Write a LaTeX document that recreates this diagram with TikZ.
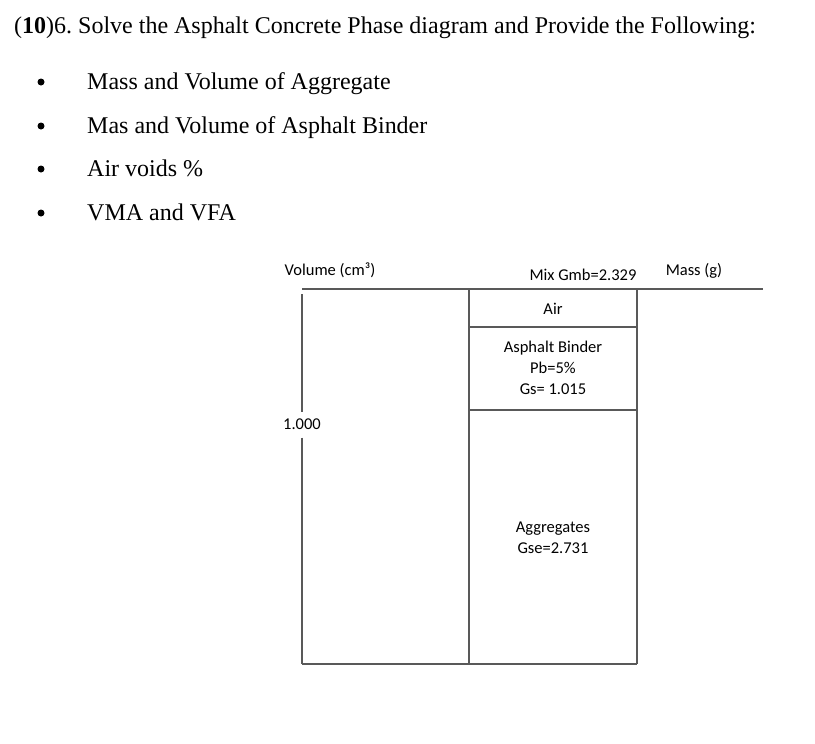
\documentclass[tikz,border=0pt]{standalone}
\usepackage{fontspec}
\setmainfont{Liberation Serif}
\newfontfamily\calibri{Carlito}
\usetikzlibrary{positioning}
\frenchspacing

\tikzset{
    phase/.style={draw=black!65, line width=1.3pt},
    lbl/.style={font=\calibri\fontsize{16.5}{19}\selectfont, inner sep=0pt, align=center},
    item/.style={font=\fontsize{24}{28}\selectfont, anchor=base west, inner sep=0pt},
    dot/.style={circle, fill, inner sep=0pt, minimum size=7pt}
}

\begin{document}
\begin{tikzpicture}[x=1pt, y=-1pt]
    \useasboundingbox (0,0) rectangle (815,744);

    % question and list
    \node[item] (title) at (14,33) {(\textbf{10})6. Solve the Asphalt Concrete Phase diagram and Provide the Following:};
    \foreach \y/\txt [count=\i] in {89/Mass and Volume of Aggregate,
                                    133/Mas and Volume of Asphalt Binder,
                                    176/Air voids \%,
                                    220/VMA and VFA} {
        \node[dot] (dot\i) at (41,\y-7) {};
        \node[item] (item\i) at (87,\y) {\txt};
    }

    % corners of the phase diagram
    \coordinate (topL)  at (302,289);
    \coordinate (topR)  at (763,289);
    \coordinate (colL)  at (469,289);
    \coordinate (colR)  at (637,289);
    \coordinate (airB)  at (637,327);
    \coordinate (binB)  at (637,410);
    \coordinate (botL)  at (302,664);
    \coordinate (botM)  at (469,664);
    \coordinate (botR)  at (637,664);

    \draw[phase] (topL) -- (topR);
    \draw[phase] (colL) -- (botM);
    \draw[phase] (colR) -- (botR);
    \draw[phase] (botL) -- (botR);
    \draw[phase] (airB -| colL) -- (airB);
    \draw[phase] (binB -| colL) -- (binB);

    % volume axis, broken by its label
    \node[lbl] (vtotal) at (302,424) {1.000};
    \draw[phase] (302,294) -- ([yshift=6pt]vtotal.north);
    \draw[phase] ([yshift=-8pt]vtotal.south) -- (botL);

    % headings
    \node[lbl] (volume) at (330,270) {Volume (cm³)};
    \node[lbl] (gmb)    at (583,275) {Mix Gmb=2.329};
    \node[lbl] (mass)   at (694,271) {Mass (g)};

    % phases
    \node[lbl] (air)    at (553,309) {Air};
    \node[lbl] (binder) at (553,368) {Asphalt Binder\\[2pt]Pb=5\%\\[2pt]Gs= 1.015};
    \node[lbl] (agg)    at (553,538) {Aggregates\\[2pt]Gse=2.731};
\end{tikzpicture}
\end{document}
